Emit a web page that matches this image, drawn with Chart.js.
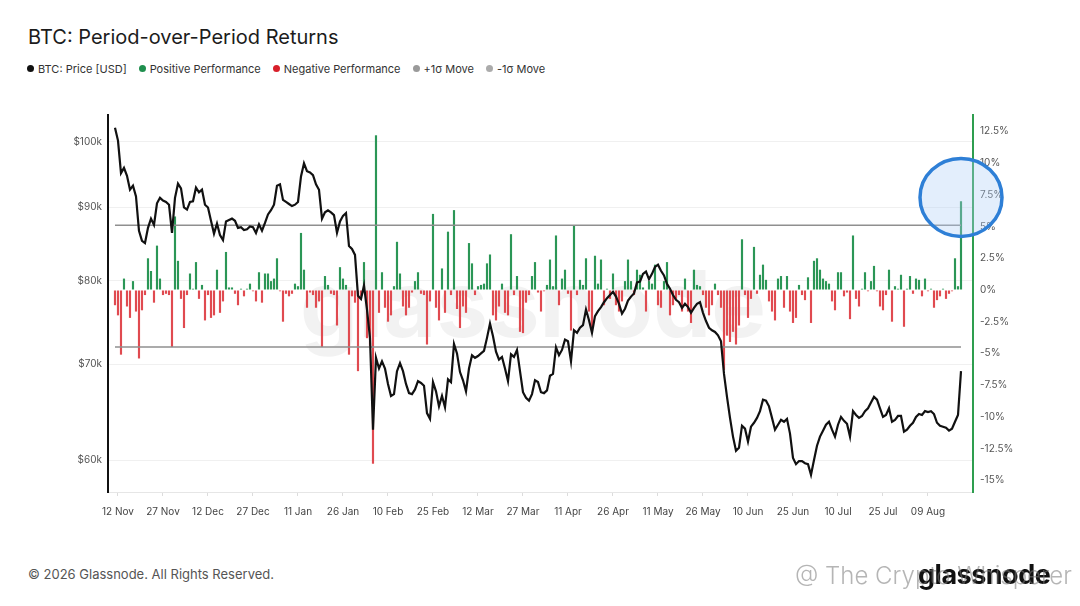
<!DOCTYPE html>
<html>
<head>
<meta charset="utf-8">
<script src="https://cdn.jsdelivr.net/npm/chart.js@4.4.1/dist/chart.umd.min.js"></script>
<style>
  html, body { margin: 0; padding: 0; background: #fff; }
  body { width: 1080px; height: 606px; position: relative; overflow: hidden; font-family: Inter, "Noto Sans", sans-serif; }
  #title { position: absolute; left: 28px; top: 25px; font-size: 20px; color: #1c1c1c; }
  #legend { position: absolute; left: 27px; top: 62px; font-size: 11px; color: #333; display: flex; gap: 12px; white-space: nowrap; }
  .dot { display: inline-block; width: 7px; height: 7px; border-radius: 50%; margin-right: 4px; vertical-align: 1px; }
  #wm { position: absolute; left: 300px; top: 248px; font-size: 92px; font-weight: 700; color: rgba(0,0,0,0.05); z-index: 0; }
  #chart { position: absolute; left: 0; top: 0; z-index: 1; }
  #footer { position: absolute; left: 28px; top: 566px; font-size: 13px; color: #555; }
  #whisper { position: absolute; left: 795px; top: 561px; font-size: 24px; font-weight: 300; color: rgba(120,120,120,0.55); z-index: 3; }
  #logo { position: absolute; left: 918px; top: 558px; font-size: 27px; font-weight: 700; color: #111; letter-spacing: -0.5px; z-index: 2; }
</style>
</head>
<body>
<div id="title">BTC: Period-over-Period Returns</div>
<div id="legend">
  <span><i class="dot" style="background:#111"></i>BTC: Price [USD]</span>
  <span><i class="dot" style="background:#1f8f4e"></i>Positive Performance</span>
  <span><i class="dot" style="background:#d81f2a"></i>Negative Performance</span>
  <span><i class="dot" style="background:#9a9a9a"></i>+1σ Move</span>
  <span><i class="dot" style="background:#ababab"></i>-1σ Move</span>
</div>
<div id="wm">glassnode</div>
<canvas id="chart" width="1080" height="606"></canvas>
<div id="footer">© 2026 Glassnode. All Rights Reserved.</div>
<div id="logo">glassnode</div>
<div id="whisper">@ The Crypto Whisperer</div>

<script>
// daily series, first day = 11 Nov 2025
const startDate = new Date(2025, 10, 11);

// BTC price, thousands of USD
const priceK = [
  102.3, 100.2, 95.1, 95.9, 94.7, 92.6, 93.2, 91.6, 86.7, 85.3,
  85.0, 87.1, 88.4, 87.5, 90.6, 91.4, 91.0, 90.8, 90.4, 86.4,
  91.4, 93.5, 92.8, 90.0, 89.7, 90.8, 90.9, 92.9, 92.2, 92.6,
  90.4, 90.0, 88.1, 86.3, 87.7, 86.1, 85.4, 88.0, 88.2, 88.4,
  88.1, 87.1, 87.2, 86.8, 86.9, 87.3, 87.2, 86.4, 87.6, 86.7,
  87.8, 89.0, 89.6, 90.4, 93.2, 93.4, 91.1, 90.8, 90.5, 90.2,
  90.4, 90.8, 94.6, 96.6, 95.4, 95.2, 94.8, 93.4, 92.6, 88.4,
  89.3, 89.6, 89.3, 88.9, 86.4, 88.0, 88.8, 89.2, 84.6, 84.2,
  83.4, 78.1, 77.7, 79.4, 76.4, 73.0, 63.0, 70.7, 69.5, 70.3,
  69.5, 67.8, 66.5, 66.7, 69.2, 70.1, 69.2, 67.8, 66.8, 66.7,
  67.2, 68.1, 67.9, 67.6, 64.7, 64.1, 68.0, 67.0, 65.4, 66.5,
  65.3, 68.3, 68.0, 72.3, 71.2, 69.1, 68.2, 67.0, 69.5, 71.0,
  70.7, 70.9, 71.2, 71.5, 73.0, 74.7, 73.2, 71.4, 70.5, 70.8,
  69.5, 68.1, 71.1, 70.8, 71.6, 69.2, 66.9, 66.3, 66.0, 66.7,
  68.2, 68.0, 66.9, 66.8, 67.1, 68.7, 68.9, 71.9, 71.0, 71.6,
  72.8, 72.6, 70.3, 73.9, 73.6, 74.2, 74.5, 76.4, 75.1, 73.6,
  75.6, 76.2, 76.7, 77.3, 77.8, 78.2, 78.6, 78.0, 77.1, 75.9,
  76.5, 77.5, 78.0, 78.4, 79.8, 79.9, 80.9, 81.2, 80.2, 80.9,
  81.8, 82.1, 81.3, 80.7, 79.6, 79.0, 78.2, 77.6, 77.3, 76.6,
  77.1, 76.7, 76.0, 76.6, 77.1, 77.3, 76.0, 75.0, 74.2, 73.9,
  73.7, 73.3, 72.6, 68.9, 66.4, 64.2, 62.3, 60.9, 61.2, 63.4,
  63.1, 61.8, 63.3, 63.7, 64.2, 64.9, 66.1, 66.0, 65.4, 64.2,
  63.0, 63.5, 64.0, 63.8, 64.1, 62.6, 60.2, 59.6, 59.9, 59.9,
  59.7, 59.6, 58.6, 60.0, 61.4, 62.3, 62.9, 63.5, 63.8, 63.0,
  62.3, 63.5, 64.3, 63.9, 63.6, 62.3, 64.9, 64.5, 64.2, 64.4,
  64.9, 65.2, 65.8, 66.4, 66.1, 65.2, 64.3, 64.5, 65.2, 63.8,
  64.0, 64.4, 64.4, 62.8, 63.0, 63.4, 63.7, 64.3, 64.6, 64.5,
  64.9, 64.8, 64.9, 64.6, 63.7, 63.4, 63.3, 63.2, 62.9, 63.1,
  63.8, 64.5, 69.2
];

// period-over-period return, %
const returnsPct = [
  -1.2, -2.0, -5.1, 0.9, -1.3, -2.2, 0.7, -1.7, -5.4, -1.6,
  -0.4, 2.5, 1.5, -1.0, 3.5, 0.9, -0.4, -0.3, -0.4, -4.5,
  5.8, 2.3, -0.7, -3.0, -0.4, 1.3, 0.1, 2.2, -0.7, 0.4,
  -2.4, -0.4, -2.2, -2.0, 1.6, -1.8, -0.9, 3.0, 0.2, 0.2,
  -0.3, -1.2, 0.1, -0.5, 0.1, 0.5, -0.1, -0.9, 1.4, -1.0,
  1.3, 1.3, 0.7, 0.9, 2.5, -0.1, -2.5, -0.3, -0.5, -0.3,
  0.5, 0.3, 4.5, 1.6, -1.4, -0.2, -0.4, -1.4, -0.9, -4.5,
  1.1, 0.4, -0.3, -0.4, -2.8, 1.8, 0.9, 0.4, -5.1, -0.5,
  -1.0, -6.4, -0.5, 2.2, -3.8, -4.4, -13.7, 12.2, -1.8, 1.4,
  -1.4, -2.5, -2.0, 0.3, 3.8, 1.3, -1.3, -2.0, -1.4, -0.2,
  0.7, 1.4, -0.3, -0.4, -4.3, -0.9, 6.0, -1.4, -2.4, 1.7,
  -1.8, 4.6, -0.4, 6.3, -1.5, -3.0, -1.3, -1.8, 3.7, 2.1,
  -0.4, 0.3, 0.4, 0.5, 2.1, 2.8, -2.0, -2.4, -1.3, 0.5,
  -1.8, -2.0, 4.4, -0.4, 1.1, -3.3, -3.4, -1.0, -0.4, 1.1,
  2.2, -0.2, -1.7, -0.1, 0.4, 2.4, 0.3, 4.3, -1.2, 0.9,
  1.6, -0.3, -3.2, 5.1, -0.4, 0.8, 0.4, 2.5, -1.7, -3.2,
  2.7, 0.5, 2.4, -1.2, 0.1, -0.7, 1.3, -1.2, -1.7, -0.9,
  0.7, 2.4, 0.7, -0.4, 1.6, 1.2, 0.2, -1.7, 0.7, 0.5,
  2.0, -1.2, -1.4, 0.7, 2.2, -2.0, -1.2, -0.7, -0.4, -1.7,
  0.9, -1.7, -2.6, 1.6, 0.4, 0.3, -0.4, -1.4, -2.0, -1.2,
  0.5, -0.4, -1.4, -6.3, -3.6, -4.1, -3.3, -4.3, -2.8, 4.0,
  -0.4, -2.2, -0.7, 3.4, -0.3, 1.2, 2.0, 0.8, -0.9, -1.7,
  -2.4, 0.9, 1.1, -1.4, 1.1, -1.7, -2.6, -2.2, 0.4, -0.4,
  -0.8, 1.0, -2.6, 2.3, 2.5, 1.6, 0.9, 0.7, 0.5, -0.9,
  -1.6, 1.4, 1.4, -0.5, -0.2, -2.3, 4.3, -0.7, -1.3, 0.1,
  1.4, -0.1, 0.7, 1.9, -0.1, -1.3, -1.6, -0.4, 1.6, -2.5,
  0.3, 0.1, 1.2, -2.9, 0.1, 1.1, -0.3, 0.9, 0.8, -0.5,
  0.9, -0.1, 0.1, -1.4, -0.8, -0.5, 0.1, -0.7, -0.3, -0.1,
  2.5, 0.3, 7.0
];

const sigmaUp = 5.1;
const sigmaDown = -4.5;

const leftTicks = [60, 70, 80, 90, 100];
const rightTicks = [-15, -12.5, -10, -7.5, -5, -2.5, 0, 2.5, 5, 7.5, 10, 12.5];

// date labels, one per day
const months = ['Jan','Feb','Mar','Apr','May','Jun','Jul','Aug','Sep','Oct','Nov','Dec'];
const dayLabels = priceK.map((_, i) => {
  const d = new Date(startDate);
  d.setDate(d.getDate() + i);
  return String(d.getDate()).padStart(2, '0') + ' ' + months[d.getMonth()];
});
const labelDays = [];
for (let i = 1; i < dayLabels.length; i += 15) labelDays.push(i);

const lastDay = returnsPct.length - 1;
const highlightValue = 7.3; // centre of the blue circle on the % axis

const posData = returnsPct.map((v, i) => ({ x: i, y: v > 0 ? v : null }));
const negData = returnsPct.map((v, i) => ({ x: i, y: v < 0 ? v : null }));

const circlePlugin = {
  id: 'circle',
  afterDraw(chart) {
    const c = chart.ctx;
    const cx = chart.scales.x.getPixelForValue(lastDay);
    const cy = chart.scales.y1.getPixelForValue(highlightValue);
    c.save();
    c.beginPath();
    c.ellipse(cx, cy, 41, 39, 0, 0, Math.PI * 2);
    c.fillStyle = 'rgba(175, 205, 245, 0.35)';
    c.fill();
    c.lineWidth = 3.5;
    c.strokeStyle = '#2e7fd6';
    c.stroke();
    c.restore();
  }
};

new Chart(document.getElementById('chart'), {
  type: 'bar',
  data: {
    datasets: [
      {
        type: 'line',
        label: 'BTC: Price [USD]',
        data: priceK.map((v, i) => ({ x: i, y: v })),
        yAxisID: 'y',
        borderColor: '#111',
        borderWidth: 2.2,
        pointRadius: 0,
        tension: 0,
        order: 0
      },
      {
        type: 'line',
        label: '+1σ Move',
        data: [{ x: 0, y: sigmaUp }, { x: lastDay, y: sigmaUp }],
        yAxisID: 'y1',
        borderColor: '#8f8f8f',
        borderWidth: 1.5,
        pointRadius: 0,
        order: 1
      },
      {
        type: 'line',
        label: '-1σ Move',
        data: [{ x: 0, y: sigmaDown }, { x: lastDay, y: sigmaDown }],
        yAxisID: 'y1',
        borderColor: '#8f8f8f',
        borderWidth: 1.5,
        pointRadius: 0,
        order: 1
      },
      {
        label: 'Positive Performance',
        data: posData,
        yAxisID: 'y1',
        backgroundColor: '#2b9656',
        barPercentage: 0.72,
        categoryPercentage: 1,
        grouped: false,
        order: 2
      },
      {
        label: 'Negative Performance',
        data: negData,
        yAxisID: 'y1',
        backgroundColor: '#e04a50',
        barPercentage: 0.72,
        categoryPercentage: 1,
        grouped: false,
        order: 2
      }
    ]
  },
  options: {
    responsive: false,
    animation: false,
    layout: { padding: { top: 115, left: 0, right: 0, bottom: 0 } },
    plugins: {
      legend: { display: false },
      tooltip: { enabled: false }
    },
    scales: {
      x: {
        type: 'linear',
        offset: false,
        min: -2.33,
        max: 286,
        afterBuildTicks: axis => { axis.ticks = labelDays.map(v => ({ value: v })); },
        afterFit: axis => { axis.height = 114; },
        ticks: {
          autoSkip: false,
          maxRotation: 0,
          padding: 10,
          color: '#444',
          font: { family: 'Inter', size: 10 },
          callback: v => dayLabels[v]
        },
        grid: { drawOnChartArea: false, tickLength: 4, color: '#dcdcdc', offset: false },
        border: { color: '#e6e6e6', width: 1 }
      },
      y: {
        type: 'logarithmic',
        position: 'left',
        min: 57.0,
        max: 104.4,
        afterBuildTicks: axis => { axis.ticks = leftTicks.map(v => ({ value: v })); },
        afterFit: axis => { axis.width = 108; },
        ticks: {
          padding: 6,
          color: '#555',
          font: { family: 'Inter', size: 10 },
          callback: v => '$' + v + 'k'
        },
        grid: { color: '#f0f0f0', drawTicks: false },
        border: { color: '#111', width: 2 }
      },
      y1: {
        type: 'linear',
        position: 'right',
        min: -15.93,
        max: 13.8,
        afterBuildTicks: axis => { axis.ticks = rightTicks.map(v => ({ value: v })); },
        afterFit: axis => { axis.width = 107; },
        ticks: {
          padding: 7,
          color: '#555',
          font: { family: 'Inter', size: 10 },
          callback: v => v + '%'
        },
        grid: { drawOnChartArea: false, drawTicks: false },
        border: { color: '#2e9e4f', width: 2 }
      }
    }
  },
  plugins: [circlePlugin]
});
</script>
</body>
</html>
